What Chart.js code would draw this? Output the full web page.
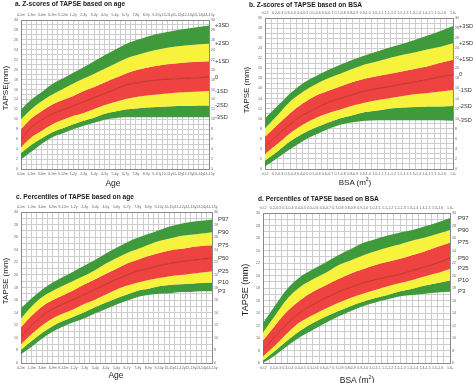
<!DOCTYPE html>
<html><head><meta charset="utf-8">
<script src="https://cdn.jsdelivr.net/npm/chart.js@4.4.1/dist/chart.umd.min.js"></script>
<style>
html,body{margin:0;padding:0;background:#fff;}
#wrap{position:relative;width:474px;height:383px;overflow:hidden;font-family:"Liberation Sans",Arial,sans-serif;color:#1a1a1a;background:#fff;}
canvas{position:absolute;}
.t{position:absolute;font-weight:bold;font-size:6.6px;white-space:nowrap;line-height:1;}
.ax{position:absolute;font-size:8.5px;white-space:nowrap;line-height:1;transform:translate(-50%,-50%);}
.yt{position:absolute;font-size:8px;white-space:nowrap;line-height:1;transform:translate(-50%,-50%) rotate(-90deg);}
</style></head>
<body><div id="wrap">
<canvas id="ca" width="237" height="190" style="left:0;top:0"></canvas>
<canvas id="cb" width="237" height="190" style="left:237px;top:0"></canvas>
<canvas id="cc" width="237" height="193" style="left:0;top:190px"></canvas>
<canvas id="cd" width="237" height="193" style="left:237px;top:190px"></canvas>

<div class="t" style="left:15px;top:1px">a. Z-scores of TAPSE based on age</div>
<div class="t" style="left:249px;top:1.5px">b. Z-scores of TAPSE based on BSA</div>
<div class="t" style="left:16px;top:194px">c. Percentiles of TAPSE based on age</div>
<div class="t" style="left:258px;top:195.5px">d. Percentiles of TAPSE based on BSA</div>

<div class="yt" style="left:6px;top:88px">TAPSE(mm)</div>
<div class="yt" style="left:247px;top:90px">TAPSE (mm)</div>
<div class="yt" style="left:6px;top:281px">TAPSE (mm)</div>
<div class="yt" style="left:245px;top:290px;font-size:9px">TAPSE (mm)</div>

<div class="ax" style="left:113px;top:183px">Age</div>
<div class="ax" style="left:355px;top:182px;font-size:8px">BSA (m<sup style="font-size:5px">2</sup>)</div>
<div class="ax" style="left:116px;top:375px">Age</div>
<div class="ax" style="left:357px;top:380px;font-size:8.5px">BSA (m<sup style="font-size:5px">2</sup>)</div>
</div>
<script>
// ---- categories / tick labels ----
const ageLabels = ['0-1m','1-3m','3-6m','6-9m','9-12m','1-2y','2-3y','3-4y','4-5y','5-6y','6-7y','7-8y','8-9y','9-10y','10-11y','11-12y','12-13y','13-14y','14-15y'];
const bsaLabels = ['<0.2','0.2-0.3','0.3-0.4','0.4-0.5','0.5-0.6','0.6-0.7','0.7-0.8','0.8-0.9','0.9-1.0','1.0-1.1','1.1-1.2','1.2-1.3','1.3-1.4','1.4-1.5','1.5-1.6','1.6-'];
const zNames = ['+3SD','+2SD','+1SD','0','-1SD','-2SD','-3SD'];
const pNames = ['P97','P90','P75','P50','P25','P10','P3'];
const yTicksZ = [0,2,4,6,8,10,12,14,16,18,20,22,24,26,28,30];
const yTicksP = [6,8,10,12,14,16,18,20,22,24,26,28,30];

// ---- a. Z-scores by age ----
const ageZplus3  = [12.0,14.0,15.5,17.1,18.2,19.4,20.5,21.7,22.9,24.0,25.1,25.9,26.6,27.2,27.6,28.0,28.3,28.6,28.9];
const ageZplus2  = [10.0,12.1,13.7,15.0,16.1,17.2,18.2,19.2,20.2,21.2,22.2,22.9,23.5,24.0,24.4,24.7,24.9,25.1,25.2];
const ageZplus1  = [8.0,10.2,11.7,13.0,13.9,14.7,15.7,16.5,17.4,18.3,19.2,19.9,20.4,20.8,21.1,21.3,21.5,21.6,21.7];
const ageZmean   = [6.0,8.4,9.9,11.1,11.9,12.7,13.5,14.4,15.2,16.0,16.9,17.3,17.7,17.9,18.1,18.2,18.3,18.4,18.5];
const ageZminus1 = [4.4,6.4,7.7,9.0,9.9,10.7,11.3,12.1,12.9,13.5,14.1,14.5,14.8,15.0,15.2,15.4,15.5,15.6,15.7];
const ageZminus2 = [3.2,4.9,6.2,7.4,8.2,9.0,9.7,10.3,11.1,11.6,12.0,12.2,12.4,12.5,12.6,12.7,12.7,12.8,12.8];
const ageZminus3 = [1.9,3.5,5.1,6.4,7.2,8.0,8.7,9.3,9.9,10.2,10.4,10.4,10.4,10.4,10.4,10.4,10.4,10.4,10.4];

// ---- b. Z-scores by BSA ----
const bsaZplus3  = [10.1,12.5,15.0,17.0,18.4,19.6,20.7,21.7,22.6,23.4,24.2,24.9,25.7,26.5,27.4,28.4];
const bsaZplus2  = [8.1,10.7,13.4,15.3,16.8,18.0,18.9,19.9,20.8,21.4,22.1,22.7,23.2,23.8,24.3,25.0];
const bsaZplus1  = [6.4,8.8,11.1,13.0,14.5,15.5,16.4,17.3,18.0,18.5,18.9,19.4,19.9,20.4,21.1,21.7];
const bsaZmean   = [4.5,6.8,8.9,10.7,12.0,13.2,14.0,14.8,15.5,16.0,16.4,16.9,17.3,17.8,18.3,18.8];
const bsaZminus1 = [3.0,5.0,7.1,8.8,10.1,11.1,11.8,12.6,13.2,13.7,14.1,14.5,14.9,15.1,15.4,15.7];
const bsaZminus2 = [1.7,3.5,5.5,7.0,8.2,9.2,10.1,10.7,11.3,11.6,12.0,12.2,12.3,12.4,12.4,12.5];
const bsaZminus3 = [0.5,2.2,3.9,5.5,6.8,7.9,8.8,9.3,9.6,9.7,9.7,9.7,9.7,9.7,9.7,9.6];

// ---- c. Percentiles by age ----
const ageP97 = [14.7,16.3,17.7,18.8,19.7,20.6,21.5,22.4,23.4,24.3,25.2,25.9,26.5,27.1,27.7,28.1,28.4,28.6,28.8];
const ageP90 = [13.1,15.0,16.5,17.5,18.3,19.1,19.9,20.8,21.8,22.7,23.5,24.1,24.8,25.4,25.8,26.2,26.4,26.6,26.8];
const ageP75 = [11.7,13.5,15.0,16.0,16.8,17.6,18.5,19.3,20.2,21.0,21.8,22.4,23.0,23.5,23.9,24.1,24.4,24.6,24.7];
const ageP50 = [10.2,12.0,13.5,14.6,15.4,16.1,16.9,17.7,18.5,19.3,20.0,20.6,21.0,21.5,21.8,22.1,22.3,22.5,22.7];
const ageP25 = [9.0,10.6,12.0,13.1,13.9,14.6,15.4,16.1,16.9,17.7,18.3,18.8,19.2,19.5,19.8,20.0,20.2,20.4,20.6];
const ageP10 = [8.1,9.5,10.8,11.9,12.7,13.4,14.1,14.9,15.6,16.3,16.9,17.5,17.8,18.2,18.4,18.5,18.6,18.7,18.8];
const ageP3  = [7.4,8.6,9.9,11.0,11.8,12.5,13.1,13.9,14.6,15.3,15.9,16.5,16.8,17.0,17.1,17.3,17.3,17.4,17.4];

// ---- d. Percentiles by BSA ----
const bsaP97 = [12.4,15.3,18.0,19.8,21.0,22.1,23.2,24.2,25.2,25.8,26.4,26.9,27.3,27.9,28.5,29.2];
const bsaP90 = [10.9,13.7,16.4,18.2,19.4,20.4,21.6,22.4,23.2,23.9,24.5,25.0,25.6,26.1,26.7,27.3];
const bsaP75 = [9.6,12.1,14.4,16.1,17.4,18.4,19.4,20.3,21.0,21.7,22.2,22.7,23.3,23.9,24.6,25.3];
const bsaP50 = [8.1,10.3,12.4,14.1,15.3,16.4,17.3,18.1,18.8,19.3,19.8,20.2,20.8,21.4,22.0,22.8];
const bsaP25 = [7.1,8.9,10.9,12.6,13.7,14.7,15.6,16.4,17.1,17.7,18.3,18.8,19.3,19.9,20.4,21.1];
const bsaP10 = [6.4,8.0,9.7,11.2,12.4,13.4,14.3,15.1,15.8,16.4,16.9,17.5,17.9,18.4,18.8,19.2];
const bsaP3  = [6.0,7.3,8.8,10.2,11.3,12.4,13.4,14.3,15.1,15.7,16.2,16.7,16.9,17.1,17.3,17.4];

// ---- styling ----
const GREEN = '#3e9a3a', YELLOW = '#f7f23c', RED = '#ee4340', MEANLINE = '#b02a22';
const GRID = '#cdcdcd', BORDER = '#8a8a8a', TICK = '#666';
const bandColors = [GREEN, YELLOW, RED, RED, YELLOW, GREEN, 'rgba(0,0,0,0)'];

const endLabelPlugin = {
  id: 'endLabels',
  afterDraw(chart, args, opts) {
    const ctx = chart.ctx, ys = chart.scales.y;
    ctx.save();
    ctx.font = opts.font; ctx.fillStyle = opts.color;
    ctx.textBaseline = 'middle'; ctx.textAlign = 'left';
    chart.data.datasets.forEach(ds => {
      const last = ds.data[ds.data.length - 1].y;
      ctx.fillText(ds.endLabel, chart.chartArea.right + opts.offset, ys.getPixelForValue(last));
    });
    ctx.restore();
  }
};

function makeChart(id, cats, series, names, yTicks, box, endOffset, endFont) {
  const n = cats.length;
  const yMin = yTicks[0], yMax = yTicks[yTicks.length - 1];
  const halfTicks = [];
  for (let v = 0; v <= n - 1; v += 0.5) halfTicks.push({ value: v });
  const intTicks = [];
  for (let v = yMin; v <= yMax; v += 1) intTicks.push({ value: v });
  const tickFont = { size: 3.6, family: 'Liberation Sans' };
  const xLab = v => Number.isInteger(v) ? cats[v] : '';
  const yLab = v => yTicks.includes(v) ? String(v) : '';
  const datasets = series.map((s, i) => ({
    data: s.map((v, j) => ({ x: j, y: v })),
    fill: i < 6 ? '+1' : false,
    backgroundColor: bandColors[i],
    borderColor: i === 3 ? MEANLINE : 'rgba(0,0,0,0)',
    borderWidth: i === 3 ? 0.8 : 1,
    pointRadius: 0,
    cubicInterpolationMode: 'monotone',
    endLabel: names[i]
  }));
  new Chart(document.getElementById(id), {
    type: 'line',
    data: { datasets },
    plugins: [endLabelPlugin],
    options: {
      responsive: false, animation: false, devicePixelRatio: 1,
      layout: { padding: 0 },
      plugins: {
        legend: { display: false }, tooltip: { enabled: false },
        filler: { drawTime: 'beforeDatasetsDraw' },
        endLabels: { font: endFont, color: '#333', offset: endOffset }
      },
      scales: {
        x: {
          type: 'linear', position: 'bottom', min: 0, max: n - 1,
          afterBuildTicks: s => { s.ticks = halfTicks.map(t => ({ value: t.value })); },
          afterFit: s => { s.height = box.b; },
          grid: { color: GRID, lineWidth: 1, drawTicks: false },
          border: { color: BORDER, width: 1 },
          ticks: { autoSkip: false, maxRotation: 0, minRotation: 0, padding: 3, font: tickFont, color: TICK, callback: xLab }
        },
        xt: {
          type: 'linear', position: 'top', min: 0, max: n - 1,
          afterBuildTicks: s => { s.ticks = halfTicks.map(t => ({ value: t.value })); },
          afterFit: s => { s.height = box.t; },
          grid: { display: false, drawTicks: false },
          border: { color: BORDER, width: 1 },
          ticks: { autoSkip: false, maxRotation: 0, minRotation: 0, padding: 3, font: tickFont, color: TICK, callback: xLab }
        },
        y: {
          type: 'linear', position: 'left', min: yMin, max: yMax,
          afterBuildTicks: s => { s.ticks = intTicks.map(t => ({ value: t.value })); },
          afterFit: s => { s.width = box.l; },
          grid: { color: GRID, lineWidth: 1, drawTicks: false },
          border: { color: BORDER, width: 1 },
          ticks: { autoSkip: false, padding: 3, font: tickFont, color: TICK, callback: yLab }
        },
        yr: {
          type: 'linear', position: 'right', min: yMin, max: yMax,
          afterBuildTicks: s => { s.ticks = intTicks.map(t => ({ value: t.value })); },
          afterFit: s => { s.width = box.r; },
          grid: { display: false, drawTicks: false },
          border: { color: BORDER, width: 1 },
          ticks: { autoSkip: false, padding: 2, font: tickFont, color: TICK, callback: yLab }
        }
      }
    }
  });
}

makeChart('ca', ageLabels,
  [ageZplus3, ageZplus2, ageZplus1, ageZmean, ageZminus1, ageZminus2, ageZminus3],
  zNames, yTicksZ, { l: 21, r: 28, t: 20, b: 21 }, 6, '5.6px "Liberation Sans"');
makeChart('cb', bsaLabels,
  [bsaZplus3, bsaZplus2, bsaZplus1, bsaZmean, bsaZminus1, bsaZminus2, bsaZminus3],
  zNames, yTicksZ, { l: 28, r: 21, t: 18, b: 21 }, 6, '5.6px "Liberation Sans"');
makeChart('cc', ageLabels,
  [ageP97, ageP90, ageP75, ageP50, ageP25, ageP10, ageP3],
  pNames, yTicksP, { l: 21, r: 25, t: 22, b: 20 }, 6, '6px "Liberation Sans"');
makeChart('cd', bsaLabels,
  [bsaP97, bsaP90, bsaP75, bsaP50, bsaP25, bsaP10, bsaP3],
  pNames, yTicksP, { l: 26, r: 24, t: 23, b: 20 }, 8, '6px "Liberation Sans"');
</script>
</body></html>
